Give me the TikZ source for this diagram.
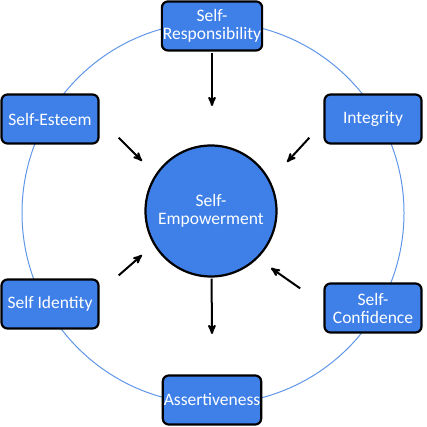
\documentclass[tikz,border=0pt]{standalone}
\usepackage{fontspec}
\setmainfont{Carlito}
\usetikzlibrary{arrows,shapes}
\definecolor{boxblue}{RGB}{62,128,232}
\definecolor{ringblue}{RGB}{95,150,232}

\begin{document}
\begin{tikzpicture}[%
    x=1pt, y=-1pt,              % pixel-like units, y pointing down
    >=stealth',                 % Arrow tips
    every node/.style={font=\fontsize{17.5}{18}\selectfont},
    ]
% -------------------------------------------------
% Box styles
\tikzset{
  base/.style={draw=black, line width=2.2pt, fill=boxblue, text=white, align=center},
  box/.style={base, rounded corners=6pt, minimum width=97pt, minimum height=49pt, inner sep=1pt},
  hub/.style={base, circle, minimum size=131pt, inner sep=0pt},
  ring/.style={draw=ringblue, line width=1pt},
  arr/.style={->, line width=2pt, shorten <=1pt}
}
\useasboundingbox (0,0) rectangle (427,427);
% -------------------------------------------------
% Outer ring first, boxes sit on top of it
\draw[ring] (213,213) circle (191pt);

\node [hub] (emp) at (211,211) {Self-\\Empowerment};

\node [box] (resp) at (212,26)  {Self-\\Responsibility};
\node [box] (esteem) at (50,119) {Self-Esteem};
\node [box] (integ) at (373,119) {Integrity};
\node [box] (ident) at (50,304) {Self Identity};
\node [box] (conf) at (373,308) {Self-\\Confidence};
\node [box] (assert) at (212,400) {Assertiveness};

% free ends of the short arrows
\coordinate (respEnd) at (212,106);
\coordinate (assertEnd) at (212,334);
\coordinate (esteemA) at (118,137);
\coordinate (esteemB) at (142,161);
\coordinate (integA) at (310,137);
\coordinate (integB) at (287,162);
\coordinate (identA) at (118,276);
\coordinate (identB) at (142,255);
\coordinate (confA) at (301,289);
\coordinate (confB) at (271,268);

\draw[arr] (resp) -- (respEnd);        % Self-Responsibility
\draw[arr] (emp) -- (assertEnd);       % Assertiveness
\draw[arr] (esteemA) -- (esteemB);     % Self-Esteem
\draw[arr] (integA) -- (integB);       % Integrity
\draw[arr] (identA) -- (identB);       % Self Identity
\draw[arr] (confA) -- (confB);         % Self-Confidence
% -------------------------------------------------
\end{tikzpicture}
\end{document}
